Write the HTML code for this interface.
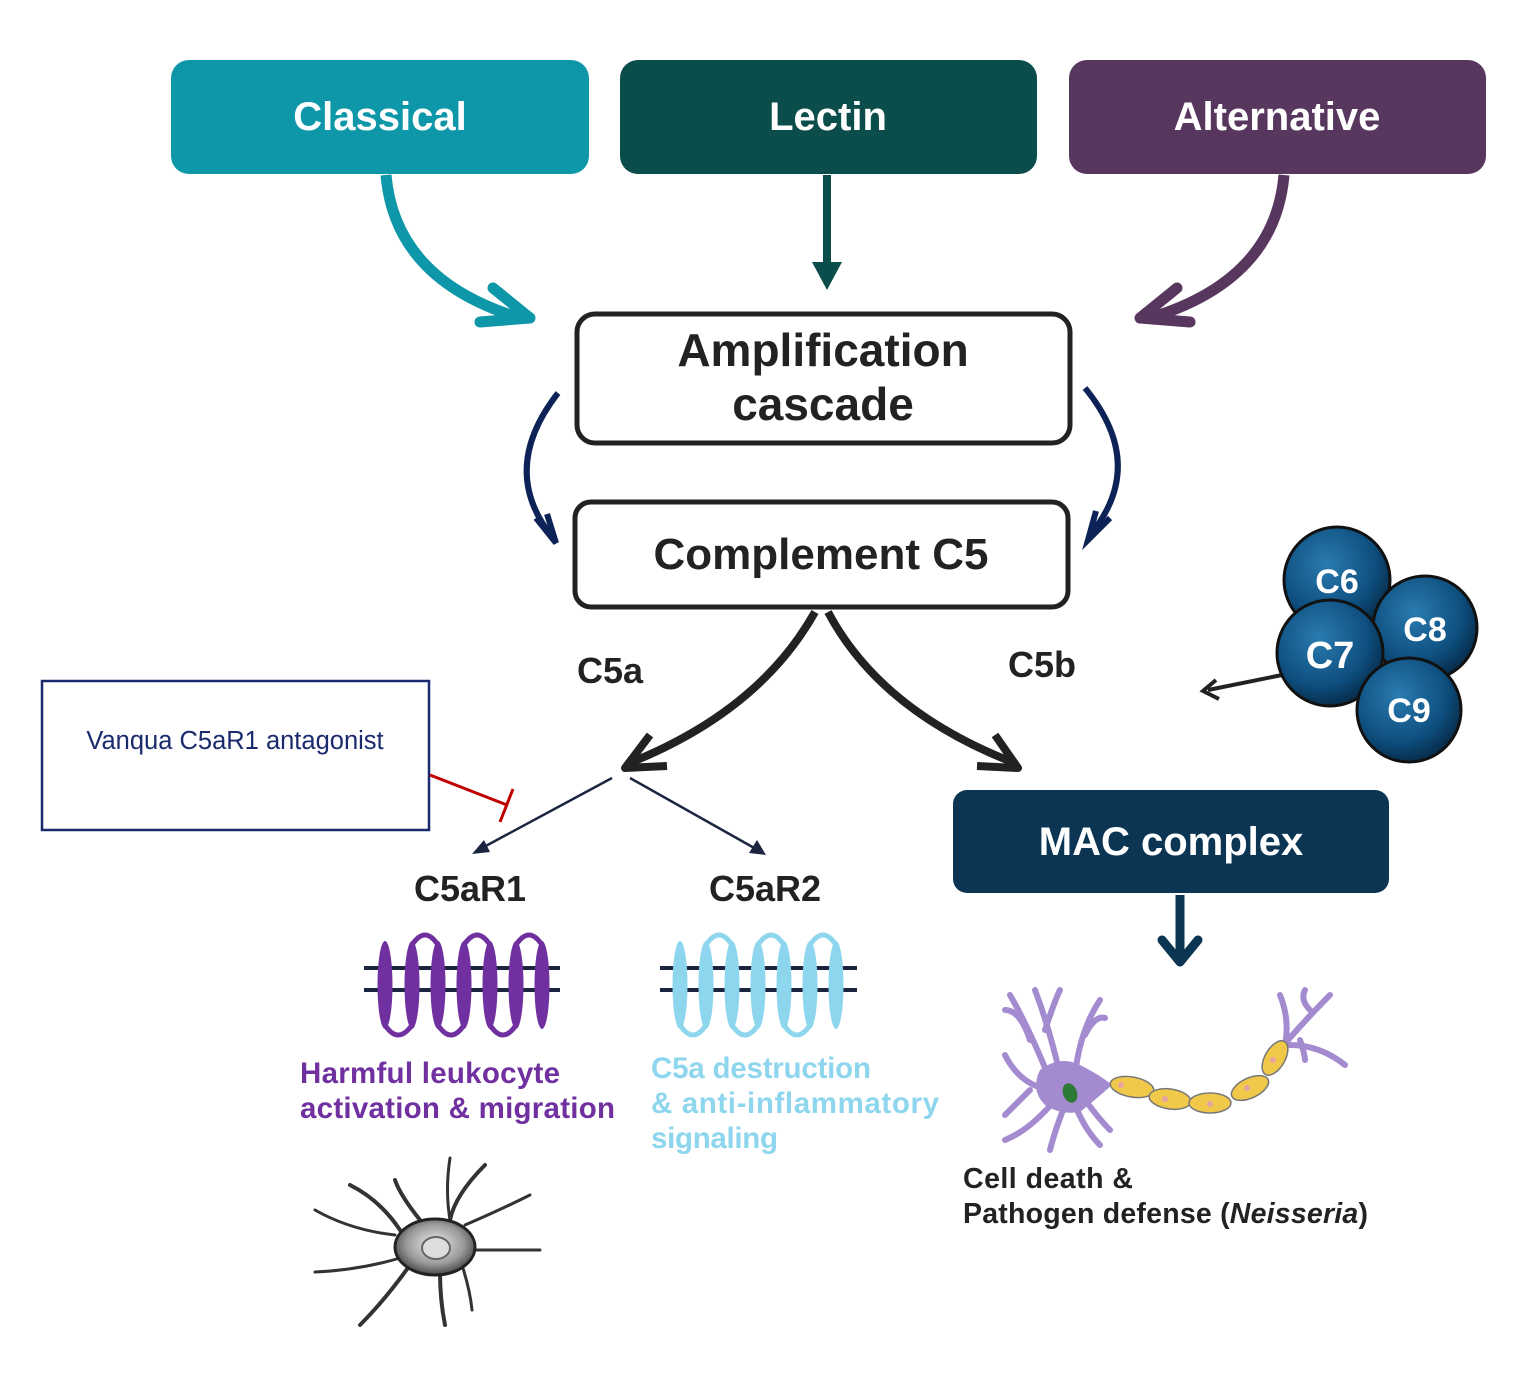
<!DOCTYPE html>
<html><head><meta charset="utf-8"><style>
html,body{margin:0;padding:0;background:#fff;}
svg{display:block;}
text{font-family:"Liberation Sans",sans-serif;font-weight:bold;}
</style></head><body>
<svg width="1536" height="1378" viewBox="0 0 1536 1378" xmlns="http://www.w3.org/2000/svg">
<defs>
<radialGradient id="sph" cx="0.4" cy="0.35" r="0.65">
<stop offset="0" stop-color="#2a7bb0"/><stop offset="0.7" stop-color="#0e4f7f"/><stop offset="1" stop-color="#072f4f"/>
</radialGradient>
<radialGradient id="cellg" cx="0.5" cy="0.45" r="0.6">
<stop offset="0" stop-color="#eee"/><stop offset="0.6" stop-color="#999"/><stop offset="1" stop-color="#333"/>
</radialGradient>
</defs>

<rect x="171" y="60" width="418" height="114" rx="18" fill="#0e97a8"/>
<text x="380" y="130" font-size="40" fill="#fff" text-anchor="middle">Classical</text>
<rect x="620" y="60" width="417" height="114" rx="18" fill="#0b4d4b"/>
<text x="828" y="130" font-size="40" fill="#fff" text-anchor="middle">Lectin</text>
<rect x="1069" y="60" width="417" height="114" rx="18" fill="#58375f"/>
<text x="1277" y="130" font-size="40" fill="#fff" text-anchor="middle">Alternative</text>

<path d="M386,175 Q395,280 520,318" stroke="#0e97a8" stroke-width="11" fill="none"/>
<path d="M493,288 L530,318 L480,322" stroke="#0e97a8" stroke-width="11" fill="none" stroke-linejoin="round" stroke-linecap="round"/>
<line x1="827" y1="175" x2="827" y2="268" stroke="#0b4d4b" stroke-width="8"/>
<polygon points="812,262 842,262 827,290" fill="#0b4d4b"/>
<path d="M1284,175 Q1275,280 1150,318" stroke="#58375f" stroke-width="11" fill="none"/>
<path d="M1177,288 L1140,318 L1190,322" stroke="#58375f" stroke-width="11" fill="none" stroke-linejoin="round" stroke-linecap="round"/>

<rect x="577" y="314" width="493" height="129" rx="18" fill="#fff" stroke="#222" stroke-width="5"/>
<text x="823" y="366" font-size="46" fill="#222" text-anchor="middle">Amplification</text>
<text x="823" y="420" font-size="46" fill="#222" text-anchor="middle">cascade</text>

<path d="M558,393 Q498,470 553,538" stroke="#0d2257" stroke-width="6" fill="none"/>
<path d="M536,518 L556,543 L547,514" stroke="#0d2257" stroke-width="6" fill="none"/>
<path d="M1085,388 Q1148,465 1090,535" stroke="#0d2257" stroke-width="6" fill="none"/>
<path d="M1110,518 L1088,540 L1096,511" stroke="#0d2257" stroke-width="6" fill="none"/>

<rect x="575" y="502" width="493" height="105" rx="16" fill="#fff" stroke="#222" stroke-width="5"/>
<text x="821" y="569" font-size="44" fill="#222" text-anchor="middle">Complement C5</text>

<path d="M815,612 Q760,710 632,762" stroke="#222" stroke-width="8" fill="none"/>
<path d="M650,735 L625,768 L667,766" stroke="#222" stroke-width="8" fill="none" stroke-linejoin="round"/>
<path d="M828,612 Q880,710 1012,762" stroke="#222" stroke-width="8" fill="none"/>
<path d="M995,735 L1018,768 L977,766" stroke="#222" stroke-width="8" fill="none" stroke-linejoin="round"/>
<text x="610" y="683" font-size="36" fill="#222" text-anchor="middle">C5a</text>
<text x="1042" y="677" font-size="36" fill="#222" text-anchor="middle">C5b</text>

<line x1="612" y1="778" x2="482" y2="848" stroke="#1b2540" stroke-width="2.5"/>
<polygon points="472,854 484,840 490,852" fill="#1b2540"/>
<line x1="630" y1="778" x2="756" y2="849" stroke="#1b2540" stroke-width="2.5"/>
<polygon points="766,855 749,853 757,840" fill="#1b2540"/>

<rect x="42" y="681" width="387" height="149" fill="#fff" stroke="#1a2a6c" stroke-width="2.5"/>
<text x="235" y="749" font-size="25.5" fill="#1a2a6c" text-anchor="middle" style="font-weight:normal">Vanqua C5aR1 antagonist</text>
<line x1="430" y1="775" x2="507" y2="805" stroke="#c00000" stroke-width="3"/>
<line x1="500" y1="822" x2="513" y2="789" stroke="#c00000" stroke-width="3"/>

<text x="470" y="901" font-size="36" fill="#222" text-anchor="middle">C5aR1</text>
<text x="765" y="901" font-size="36" fill="#222" text-anchor="middle">C5aR2</text>

<g fill="none" stroke="#7030a0" stroke-width="5">
<path d="M412,945 Q425,925 438,945"/><path d="M464,945 Q477,925 490,945"/><path d="M516,945 Q529,925 542,945"/>
<path d="M385,1025 Q398,1045 412,1025"/><path d="M438,1025 Q451,1045 464,1025"/><path d="M490,1025 Q503,1045 516,1025"/>
</g>
<line x1="364" y1="968" x2="560" y2="968" stroke="#1b2540" stroke-width="4"/>
<line x1="364" y1="990" x2="560" y2="990" stroke="#1b2540" stroke-width="4"/>
<g fill="#7030a0">
<ellipse cx="385" cy="985" rx="7.5" ry="44"/><ellipse cx="412" cy="985" rx="7.5" ry="44"/><ellipse cx="438" cy="985" rx="7.5" ry="44"/><ellipse cx="464" cy="985" rx="7.5" ry="44"/><ellipse cx="490" cy="985" rx="7.5" ry="44"/><ellipse cx="516" cy="985" rx="7.5" ry="44"/><ellipse cx="542" cy="985" rx="7.5" ry="44"/>
</g>
<g fill="none" stroke="#8ed6ee" stroke-width="5">
<path d="M706,945 Q719,925 732,945"/><path d="M758,945 Q771,925 784,945"/><path d="M810,945 Q823,925 836,945"/>
<path d="M680,1025 Q693,1045 706,1025"/><path d="M732,1025 Q745,1045 758,1025"/><path d="M784,1025 Q797,1045 810,1025"/>
</g>
<line x1="660" y1="968" x2="857" y2="968" stroke="#1b2540" stroke-width="4"/>
<line x1="660" y1="990" x2="857" y2="990" stroke="#1b2540" stroke-width="4"/>
<g fill="#8ed6ee">
<ellipse cx="680" cy="985" rx="7.5" ry="44"/><ellipse cx="706" cy="985" rx="7.5" ry="44"/><ellipse cx="732" cy="985" rx="7.5" ry="44"/><ellipse cx="758" cy="985" rx="7.5" ry="44"/><ellipse cx="784" cy="985" rx="7.5" ry="44"/><ellipse cx="810" cy="985" rx="7.5" ry="44"/><ellipse cx="836" cy="985" rx="7.5" ry="44"/>
</g>

<text x="300" y="1083" font-size="29.5" fill="#7030a0" textLength="260">Harmful leukocyte</text>
<text x="300" y="1118" font-size="29.5" fill="#7030a0" textLength="315">activation &amp; migration</text>
<text x="651" y="1078" font-size="29.5" fill="#8ed6ee" textLength="220">C5a destruction</text>
<text x="651" y="1113" font-size="29.5" fill="#8ed6ee" textLength="288">&amp; anti-inflammatory</text>
<text x="651" y="1148" font-size="29.5" fill="#8ed6ee" textLength="127">signaling</text>

<g stroke="#333" fill="none" stroke-linecap="round">
<path d="M400,1230 Q380,1200 350,1185" stroke-width="4"/>
<path d="M395,1235 Q350,1230 315,1210" stroke-width="3"/>
<path d="M400,1258 Q360,1270 315,1272" stroke-width="3"/>
<path d="M410,1265 Q385,1300 360,1325" stroke-width="4"/>
<path d="M440,1272 Q440,1300 445,1325" stroke-width="4"/>
<path d="M462,1265 Q470,1290 472,1310" stroke-width="3"/>
<path d="M472,1250 Q510,1250 540,1250" stroke-width="3"/>
<path d="M465,1225 Q500,1210 530,1195" stroke-width="3"/>
<path d="M450,1220 Q455,1195 485,1165" stroke-width="4"/>
<path d="M420,1220 Q400,1195 395,1180" stroke-width="4"/>
<path d="M450,1220 Q445,1190 450,1158" stroke-width="3"/>
</g>
<ellipse cx="435" cy="1247" rx="40" ry="28" fill="url(#cellg)" stroke="#222" stroke-width="3"/>
<ellipse cx="436" cy="1248" rx="14" ry="11" fill="#ddd" stroke="#666" stroke-width="2"/>

<line x1="1282" y1="675" x2="1208" y2="690" stroke="#222" stroke-width="4"/>
<path d="M1216,680 L1203,691 L1219,699" stroke="#222" stroke-width="4" fill="none"/>
<g stroke="#111" stroke-width="3" fill="url(#sph)">
<circle cx="1337" cy="580" r="53"/>
<circle cx="1425" cy="628" r="52"/>
<circle cx="1330" cy="653" r="53"/>
<circle cx="1409" cy="710" r="52"/>
</g>
<text x="1337" y="593" font-size="34" fill="#fff" text-anchor="middle">C6</text>
<text x="1425" y="641" font-size="34" fill="#fff" text-anchor="middle">C8</text>
<text x="1330" y="668" font-size="38" fill="#fff" text-anchor="middle">C7</text>
<text x="1409" y="722" font-size="34" fill="#fff" text-anchor="middle">C9</text>

<rect x="953" y="790" width="436" height="103" rx="14" fill="#0b3553"/>
<text x="1171" y="855" font-size="40" fill="#fff" text-anchor="middle">MAC complex</text>
<line x1="1180" y1="895" x2="1180" y2="958" stroke="#0b3553" stroke-width="9"/>
<path d="M1162,940 L1180,962 L1198,940" stroke="#0b3553" stroke-width="9" fill="none" stroke-linejoin="round" stroke-linecap="round"/>

<g stroke="#a48bd0" fill="none" stroke-linecap="round" stroke-width="6">
<path d="M1050,1080 Q1030,1030 1010,995"/><path d="M1030,1040 Q1020,1010 1005,1010"/>
<path d="M1060,1075 Q1050,1030 1035,990"/><path d="M1045,1030 Q1055,1000 1060,990"/>
<path d="M1075,1075 Q1080,1030 1100,1000"/><path d="M1085,1035 Q1095,1015 1105,1018"/>
<path d="M1050,1090 Q1020,1085 1005,1055"/><path d="M1030,1090 Q1020,1100 1005,1115"/>
<path d="M1055,1100 Q1030,1130 1005,1140"/><path d="M1065,1105 Q1055,1130 1050,1150"/>
<path d="M1075,1105 Q1085,1130 1100,1145"/><path d="M1085,1100 Q1100,1120 1110,1130"/>
<path d="M1285,1045 Q1290,1020 1280,995"/><path d="M1288,1040 Q1310,1015 1330,995"/>
<path d="M1290,1045 Q1320,1045 1345,1065"/><path d="M1300,1040 Q1305,1055 1305,1060"/>
<path d="M1310,1010 Q1300,1000 1305,990"/>
</g>
<path d="M1040,1070 Q1060,1055 1080,1065 Q1100,1075 1112,1085 Q1095,1100 1080,1112 Q1060,1115 1045,1105 Q1030,1090 1040,1070Z" fill="#a48bd0"/>
<ellipse cx="1070" cy="1093" rx="7" ry="10" fill="#2d7a37" transform="rotate(-20 1070 1093)"/>
<g fill="#f0c94a" stroke="#777" stroke-width="1.5">
<ellipse cx="1132" cy="1087" rx="22" ry="10" transform="rotate(10 1132 1087)"/>
<ellipse cx="1170" cy="1099" rx="21" ry="10" transform="rotate(8 1170 1099)"/>
<ellipse cx="1210" cy="1103" rx="21" ry="10"/>
<ellipse cx="1250" cy="1088" rx="20" ry="10" transform="rotate(-25 1250 1088)"/>
<ellipse cx="1275" cy="1058" rx="19" ry="10" transform="rotate(-60 1275 1058)"/>
</g>
<g fill="#e6a3a0"><circle cx="1121" cy="1085" r="3"/><circle cx="1165" cy="1099" r="3"/><circle cx="1210" cy="1104" r="3"/><circle cx="1247" cy="1088" r="3"/><circle cx="1273" cy="1060" r="3"/></g>

<text x="963" y="1188" font-size="28.5" fill="#222" textLength="170">Cell death &amp;</text>
<text x="963" y="1223" font-size="28.5" fill="#222" textLength="405">Pathogen defense (<tspan font-style="italic">Neisseria</tspan>)</text>
</svg>
</body></html>
